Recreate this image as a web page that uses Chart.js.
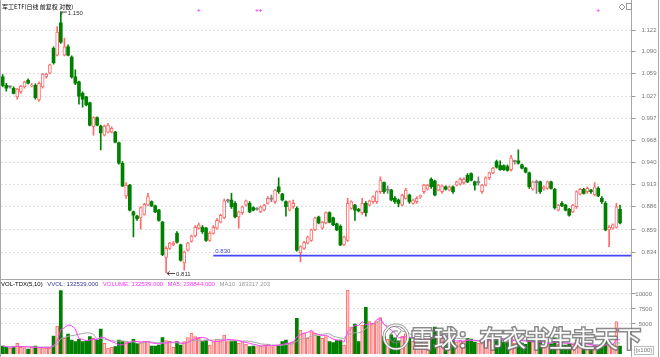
<!DOCTYPE html>
<html><head><meta charset="utf-8">
<script src="https://cdn.jsdelivr.net/npm/chart.js@4.4.0/dist/chart.umd.min.js"></script>
<style>
html,body{margin:0;padding:0;background:#fff;}
#wrap{position:relative;width:660px;height:357px;overflow:hidden;background:#fff;}
canvas{position:absolute;left:0;}
#pc{top:0;}
#vc{top:280px;}
</style></head><body>
<div id="wrap"><canvas id="pc" width="660" height="280"></canvas><canvas id="vc" width="660" height="77"></canvas></div>
<script>
// ---------------- DATA ----------------
const title = '军工ETF(日线 前复权 对数)';
const open = [1.054,1.042,1.040,1.038,1.026,1.033,1.040,1.049,1.041,1.042,
1.022,1.040,1.054,1.059,1.095,1.085,1.133,1.085,1.097,1.082,
1.054,1.047,1.031,1.026,1.018,0.986,0.998,0.987,0.975,0.979,
0.979,0.979,0.965,0.939,0.899,0.912,0.880,0.875,0.873,0.877,
0.888,0.892,0.887,0.882,0.868,0.828,0.838,0.842,0.855,0.842,
0.822,0.836,0.846,0.852,0.861,0.862,0.861,0.847,0.855,0.861,
0.868,0.873,0.893,0.894,0.890,0.874,0.879,0.888,0.890,0.885,
0.883,0.880,0.882,0.890,0.895,0.892,0.910,0.901,0.892,0.882,
0.886,0.884,0.833,0.838,0.844,0.847,0.859,0.874,0.861,0.867,
0.879,0.873,0.866,0.863,0.842,0.847,0.884,0.888,0.883,0.879,
0.890,0.888,0.892,0.892,0.904,0.915,0.906,0.906,0.896,0.894,
0.888,0.896,0.900,0.890,0.892,0.898,0.904,0.907,0.919,0.917,
0.906,0.904,0.910,0.906,0.910,0.912,0.913,0.915,0.924,0.926,
0.916,0.915,0.904,0.912,0.921,0.927,0.941,0.936,0.936,0.935,
0.931,0.941,0.942,0.937,0.933,0.927,0.907,0.915,0.916,0.907,
0.908,0.916,0.907,0.882,0.890,0.888,0.883,0.880,0.886,0.901,
0.907,0.904,0.906,0.900,0.908,0.896,0.890,0.859,0.861,0.862,
0.883];
const high = [1.057,1.045,1.041,1.040,1.038,1.042,1.048,1.051,1.045,1.044,
1.047,1.059,1.059,1.072,1.097,1.127,1.150,1.110,1.100,1.084,
1.064,1.048,1.033,1.027,1.019,0.999,0.999,0.988,0.988,0.990,
0.986,0.980,0.966,0.941,0.915,0.913,0.881,0.876,0.886,0.890,
0.902,0.893,0.888,0.883,0.869,0.840,0.845,0.846,0.857,0.843,
0.835,0.845,0.853,0.864,0.867,0.864,0.862,0.857,0.864,0.872,
0.877,0.895,0.895,0.902,0.892,0.881,0.887,0.894,0.892,0.886,
0.885,0.887,0.889,0.898,0.900,0.907,0.921,0.902,0.893,0.893,
0.894,0.886,0.841,0.846,0.852,0.860,0.874,0.875,0.869,0.880,
0.880,0.874,0.867,0.865,0.852,0.896,0.893,0.889,0.884,0.896,
0.892,0.894,0.899,0.905,0.922,0.916,0.911,0.907,0.898,0.895,
0.901,0.908,0.901,0.895,0.898,0.900,0.913,0.913,0.921,0.918,
0.913,0.912,0.911,0.911,0.911,0.917,0.921,0.921,0.926,0.927,
0.917,0.922,0.913,0.922,0.928,0.934,0.943,0.942,0.937,0.937,
0.949,0.943,0.956,0.938,0.934,0.928,0.917,0.918,0.917,0.911,
0.917,0.917,0.908,0.889,0.892,0.889,0.884,0.889,0.905,0.908,
0.908,0.910,0.907,0.915,0.910,0.898,0.892,0.864,0.866,0.890,
0.888];
const low = [1.040,1.034,1.038,1.030,1.023,1.031,1.038,1.044,1.040,1.023,
1.020,1.038,1.052,1.058,1.072,1.084,1.102,1.084,1.084,1.052,
1.043,1.016,1.012,1.014,0.987,0.975,0.987,0.956,0.974,0.978,
0.978,0.965,0.938,0.910,0.896,0.881,0.851,0.870,0.860,0.876,
0.887,0.886,0.879,0.869,0.830,0.811,0.837,0.841,0.844,0.824,
0.814,0.835,0.845,0.851,0.860,0.855,0.846,0.846,0.854,0.860,
0.867,0.872,0.891,0.884,0.873,0.861,0.877,0.887,0.879,0.881,
0.882,0.879,0.881,0.889,0.892,0.890,0.902,0.893,0.875,0.881,
0.884,0.835,0.823,0.837,0.843,0.846,0.858,0.866,0.860,0.866,
0.867,0.864,0.858,0.841,0.841,0.846,0.883,0.870,0.880,0.877,
0.875,0.887,0.890,0.890,0.902,0.902,0.902,0.893,0.890,0.886,
0.887,0.895,0.890,0.889,0.890,0.896,0.902,0.906,0.908,0.899,
0.905,0.902,0.906,0.905,0.902,0.911,0.912,0.913,0.915,0.917,
0.906,0.912,0.902,0.911,0.919,0.926,0.933,0.930,0.930,0.929,
0.929,0.938,0.938,0.932,0.927,0.908,0.906,0.902,0.902,0.906,
0.907,0.907,0.883,0.881,0.886,0.881,0.875,0.879,0.884,0.900,
0.901,0.902,0.902,0.899,0.898,0.890,0.858,0.840,0.860,0.861,
0.866];
const close = [1.042,1.038,1.040,1.031,1.037,1.041,1.047,1.045,1.042,1.025,
1.045,1.058,1.058,1.071,1.074,1.119,1.104,1.097,1.085,1.054,
1.045,1.027,1.023,1.015,0.988,0.998,0.988,0.978,0.987,0.988,
0.984,0.966,0.939,0.911,0.912,0.882,0.876,0.872,0.885,0.889,
0.898,0.887,0.880,0.870,0.831,0.838,0.844,0.844,0.845,0.825,
0.834,0.844,0.852,0.862,0.865,0.857,0.847,0.855,0.862,0.870,
0.876,0.893,0.893,0.886,0.874,0.880,0.886,0.893,0.880,0.882,
0.883,0.886,0.888,0.896,0.895,0.906,0.904,0.894,0.886,0.892,
0.890,0.836,0.840,0.845,0.851,0.859,0.873,0.867,0.868,0.879,
0.868,0.865,0.859,0.842,0.851,0.890,0.892,0.882,0.881,0.890,
0.879,0.893,0.898,0.904,0.918,0.904,0.906,0.894,0.892,0.890,
0.900,0.906,0.892,0.894,0.896,0.899,0.912,0.912,0.910,0.900,
0.912,0.911,0.907,0.910,0.904,0.916,0.919,0.919,0.916,0.918,
0.912,0.915,0.912,0.921,0.927,0.933,0.934,0.931,0.931,0.930,
0.946,0.941,0.939,0.933,0.928,0.910,0.916,0.915,0.904,0.910,
0.916,0.908,0.885,0.888,0.887,0.882,0.876,0.888,0.904,0.907,
0.902,0.908,0.904,0.910,0.899,0.892,0.859,0.862,0.865,0.886,
0.867];
// volume in units of 100 shares (axis shows [x100])
const volume = [1330,1110,1000,1220,1780,1110,1060,830,1110,1330,
1060,1060,1000,1000,3000,4670,10560,2610,3330,2330,
2060,2450,2060,2170,2890,2610,2330,4170,1780,940,
1110,1220,2330,2170,2060,1890,2450,1780,1890,2170,
2060,1330,1330,1500,2720,2220,2170,1110,2060,1500,
2060,2720,3450,2890,2610,2060,2330,1500,2060,2450,
2220,3170,2060,2060,2170,1780,2060,1670,1220,1330,
1220,1330,1500,1670,1220,1500,1500,2060,2330,1780,
2060,5950,4000,3450,2610,3720,3450,3000,2610,2890,
2060,1890,2220,2330,1500,10670,4500,5000,2060,4840,
7780,5390,5110,5390,6060,2890,2500,3200,2700,2200,
3000,3400,2600,2100,2300,1900,2800,2500,3000,4500,
2600,2400,2000,2000,2400,2000,2300,2100,2600,2500,
2000,1800,2000,2400,2700,2900,2600,2400,2000,1900,
3000,1800,2600,1800,1600,2600,2000,1600,2200,1500,
1800,1700,2700,1600,1500,1500,1700,1600,2300,1700,
1400,1300,1100,1500,1300,1200,2300,1700,1217,5400,
1325.39];
const priceTicks = [1.122,1.090,1.059,1.027,0.997,0.968,0.940,0.913,0.886,0.859,0.834];
const volTicks = [5000,7500,10000];
const volTickLabels = ['5000','7500','10000'];
const volUnitLabel = '[x100]';
const supportLine = {value:0.830, from:58};
const eventDays = [54,70,71,164];
const volHeader = [
  {t:'VOL-TDX(5,10)', c:'#000000'},
  {t:'VVOL: 132539.000', c:'#34349a'},
  {t:'VOLUME: 132539.000', c:'#ff33ff'},
  {t:'MA5: 238844.000', c:'#ff33ff'},
  {t:'MA10: 183317.203', c:'#999999'}
];
const watermark = '雪球：布衣书生走天下';

// ---------------- LAYOUT / STYLE ----------------
const X_MIN = -0.468, X_MAX = 173.16;
const P_MIN = 0.8034, P_MAX = 1.1679;
const V_MAX = 12333;
const UP = '#ff6a6a', DOWN = '#008000', DOJI = '#808080';
const FONT = '"Liberation Sans", Arial, sans-serif';

const idx = open.map((_, i) => i);
const isUp = idx.map(i => close[i] > open[i]);
const isDoji = idx.map(i => close[i] === open[i]);
const cColor = idx.map(i => isDoji[i] ? DOJI : (isUp[i] ? UP : DOWN));

const pricePlugin = {
  id: 'pricePlugin',
  afterDraw(chart) {
    const {ctx, scales: {x, y}} = chart;
    ctx.save();
    ctx.strokeStyle = '#a8a8a8'; ctx.lineWidth = 1;
    ctx.beginPath();
    ctx.moveTo(0.5, 0); ctx.lineTo(0.5, 280);
    ctx.moveTo(658.5, 0); ctx.lineTo(658.5, 280);
    ctx.moveTo(0, 279.5); ctx.lineTo(660, 279.5);
    ctx.stroke();
    // top-right icons
    ctx.strokeStyle = '#999';
    ctx.beginPath(); ctx.moveTo(622, 4); ctx.lineTo(625, 7); ctx.lineTo(622, 10); ctx.lineTo(619, 7); ctx.closePath(); ctx.stroke();
    ctx.strokeRect(626.5, 3.5, 5, 6);
    // title
    ctx.fillStyle = '#000'; ctx.textBaseline = 'middle';
    ctx.font = '6px "Noto Sans CJK SC"';
    ctx.fillText(title, 2, 7);
    // events
    ctx.strokeStyle = '#ff66ff'; ctx.lineWidth = 1;
    eventDays.forEach(d => {
      const px = x.getPixelForValue(d);
      ctx.beginPath(); ctx.moveTo(px - 1.5, 10.5); ctx.lineTo(px + 1.5, 10.5);
      ctx.moveTo(px, 9); ctx.lineTo(px, 12); ctx.stroke();
    });
    // max / min annotations
    ctx.font = '6px ' + FONT; ctx.fillStyle = '#333'; ctx.strokeStyle = '#444';
    const hMax = Math.max(...high), iMax = high.indexOf(hMax);
    let px = x.getPixelForValue(iMax), py = y.getPixelForValue(hMax);
    ctx.beginPath(); ctx.moveTo(px + 1, py + 0.5); ctx.lineTo(px + 1, py + 3); ctx.moveTo(px + 1, py + 0.5); ctx.lineTo(px + 6, py + 0.5); ctx.stroke();
    ctx.fillText(hMax.toFixed(3), px + 7, py + 1.5);
    const lMin = Math.min(...low), iMin = low.indexOf(lMin);
    px = x.getPixelForValue(iMin); py = y.getPixelForValue(lMin);
    ctx.beginPath(); ctx.moveTo(px + 1, py + 0.5); ctx.lineTo(px + 9, py + 0.5);
    ctx.moveTo(px + 1, py + 0.5); ctx.lineTo(px + 3.5, py - 1.5);
    ctx.moveTo(px + 1, py + 0.5); ctx.lineTo(px + 3.5, py + 2.5); ctx.stroke();
    ctx.fillText(lMin.toFixed(3), px + 10, py + 1);
    // support label
    ctx.fillStyle = '#4a4ac8';
    ctx.fillText(supportLine.value.toFixed(3), x.getPixelForValue(supportLine.from) + 2, y.getPixelForValue(supportLine.value) - 4.5);
    ctx.restore();
  }
};

new Chart(document.getElementById('pc'), {
  type: 'bar',
  data: {
    datasets: [
      {type: 'line', data: [{x: supportLine.from, y: supportLine.value}, {x: X_MAX, y: supportLine.value}],
       borderColor: '#4646ff', borderWidth: 1.6, pointRadius: 0, order: 0},
      {data: idx.map(i => ({x: i, y: [open[i], close[i]]})),
       backgroundColor: idx.map(i => isUp[i] ? '#ffffff' : cColor[i]),
       borderColor: cColor, borderWidth: idx.map(i => isUp[i] ? 1 : 0),
       borderSkipped: false, barThickness: 3, minBarLength: 1, grouped: false, order: 1},
      {data: idx.map(i => ({x: i, y: [low[i], high[i]]})),
       backgroundColor: cColor, borderWidth: 0, barThickness: 1, minBarLength: 1, grouped: false, order: 2}
    ]
  },
  options: {
    responsive: false, animation: false, events: [],
    layout: {padding: {left: 1, right: 0, top: 0, bottom: 0}},
    plugins: {legend: {display: false}, tooltip: {enabled: false}},
    scales: {
      x: {type: 'linear', min: X_MIN, max: X_MAX, offset: false, display: false},
      y: {type: 'logarithmic', position: 'right', min: P_MIN, max: P_MAX, bounds: 'data',
          afterBuildTicks: s => { s.ticks = priceTicks.map(v => ({value: v})); },
          afterFit: s => { s.width = 28.5; s.paddingTop = 0; s.paddingBottom = 0; },
          ticks: {callback: v => Number(v).toFixed(3), font: {size: 6, family: FONT}, color: '#777', padding: 6, autoSkip: false},
          grid: {color: '#e0e0e0', tickColor: '#999', tickLength: 4},
          border: {color: '#a8a8a8', dash: [2, 2]}}
    }
  },
  plugins: [pricePlugin]
});

// ---------------- VOLUME ----------------
const movAvg = n => volume.map((_, i) => {
  const w = volume.slice(Math.max(0, i - n + 1), i + 1);
  return w.reduce((a, b) => a + b, 0) / w.length;
});
const ma5 = movAvg(5), ma10 = movAvg(10);
const volUp = idx.map(i => close[i] >= open[i]);

const volPlugin = {
  id: 'volPlugin',
  afterDraw(chart) {
    const {ctx, scales: {y}} = chart;
    ctx.save();
    ctx.strokeStyle = '#a8a8a8'; ctx.lineWidth = 1;
    ctx.beginPath();
    ctx.moveTo(0.5, 0); ctx.lineTo(0.5, 77);
    ctx.moveTo(658.5, 0); ctx.lineTo(658.5, 77);
    ctx.moveTo(631.5, 0); ctx.lineTo(631.5, 77);
    ctx.stroke();
    // header
    ctx.font = '6px ' + FONT; ctx.textBaseline = 'middle';
    let hx = 1;
    volHeader.forEach(h => { ctx.fillStyle = h.c; ctx.fillText(h.t, hx, 4.5); hx += ctx.measureText(h.t).width + 4.5; });
    // axis labels
    ctx.fillStyle = '#777'; ctx.textAlign = 'right';
    volTicks.forEach((v, k) => ctx.fillText(volTickLabels[k], 652, y.getPixelForValue(v)));
    ctx.fillText(volUnitLabel, 652, 70);
    ctx.strokeStyle = '#bbb'; ctx.strokeRect(634.5, 66.5, 19, 8);
    // watermark
    ctx.textAlign = 'left';
    const cx = 396, cy = 57;
    ctx.lineWidth = 3; ctx.strokeStyle = 'rgba(120,120,120,0.85)';
    ctx.beginPath(); ctx.arc(cx, cy, 12, 0, Math.PI * 2); ctx.stroke();
    ctx.lineWidth = 1.6; ctx.strokeStyle = 'rgba(255,255,255,0.95)';
    ctx.beginPath(); ctx.arc(cx, cy, 12, 0, Math.PI * 2); ctx.stroke();
    ctx.lineWidth = 1.2; ctx.strokeStyle = 'rgba(120,120,120,0.85)';
    ctx.beginPath(); ctx.arc(cx, cy, 6, Math.PI * 0.2, Math.PI * 1.6); ctx.stroke();
    ctx.beginPath(); ctx.moveTo(cx - 3, cy + 5); ctx.lineTo(cx + 5, cy - 6); ctx.stroke();
    ctx.font = '23px "Noto Sans CJK SC"';
    ctx.lineWidth = 3; ctx.strokeStyle = 'rgba(110,110,110,0.8)';
    ctx.strokeText(watermark, 411, 58);
    ctx.fillStyle = 'rgba(255,255,255,0.97)';
    ctx.fillText(watermark, 411, 58);
    ctx.restore();
  }
};

new Chart(document.getElementById('vc'), {
  type: 'bar',
  data: {
    datasets: [
      {type: 'line', data: idx.map(i => ({x: i, y: ma5[i]})), borderColor: '#ff40ff', borderWidth: 1, pointRadius: 0, order: 0},
      {type: 'line', data: idx.map(i => ({x: i, y: ma10[i]})), borderColor: '#a6a6a6', borderWidth: 1, pointRadius: 0, order: 1},
      {data: idx.map(i => ({x: i, y: volume[i]})),
       backgroundColor: idx.map(i => volUp[i] ? '#ffcccc' : DOWN),
       borderColor: idx.map(i => volUp[i] ? '#ff6a6a' : DOWN),
       borderWidth: idx.map(i => volUp[i] ? 1 : 0), borderSkipped: 'start',
       barThickness: 3, grouped: false, order: 2}
    ]
  },
  options: {
    responsive: false, animation: false, events: [],
    layout: {padding: {left: 1, right: 0, top: 0, bottom: 3}},
    plugins: {legend: {display: false}, tooltip: {enabled: false}},
    scales: {
      x: {type: 'linear', min: X_MIN, max: X_MAX, offset: false, display: false},
      y: {type: 'linear', position: 'right', min: 0, max: V_MAX, bounds: 'data',
          afterBuildTicks: s => { s.ticks = volTicks.map(v => ({value: v})); },
          afterFit: s => { s.width = 28.5; s.paddingTop = 0; s.paddingBottom = 0; },
          ticks: {display: false},
          grid: {color: '#e0e0e0', tickColor: '#999', tickLength: 4},
          border: {color: '#a8a8a8', dash: [2, 2]}}
    }
  },
  plugins: [volPlugin]
});
</script></body></html>
